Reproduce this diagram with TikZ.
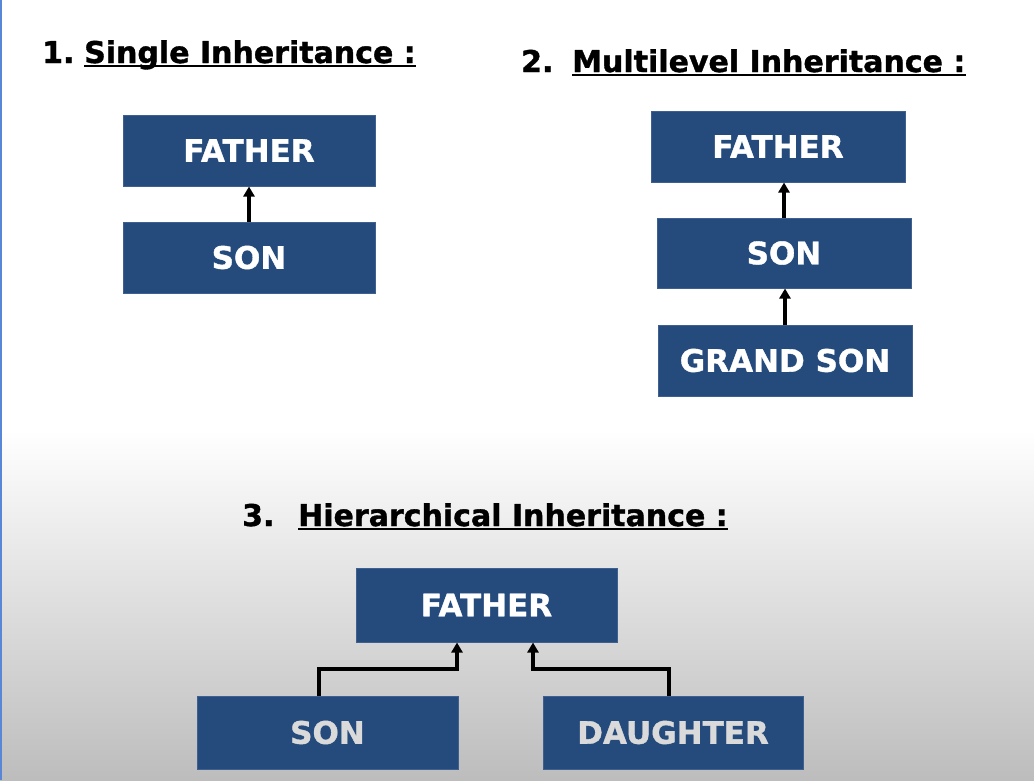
\documentclass[tikz,border=0pt]{standalone}
\usepackage{fontspec}
\setmainfont{DejaVu Sans}[BoldFeatures={FakeBold=1.2}]
\usetikzlibrary{arrows.meta,positioning}
\definecolor{boxblue}{HTML}{244B7C}
\definecolor{boxedge}{HTML}{3E6090}
\definecolor{paleword}{HTML}{DADADA}
\definecolor{edgeblue}{HTML}{5A86D6}
\tikzset{
  box/.style={rectangle,fill=boxblue,draw=boxedge,line width=1pt,
    minimum width=252pt,minimum height=71pt,text=white,
    font=\fontsize{31}{36}\selectfont\bfseries},
  head/.style={anchor=base west,inner sep=0pt,text=black,
    font=\fontsize{30}{36}\selectfont\bfseries},
  link/.style={line width=3.2pt,-{Triangle[length=10pt,width=11pt]}},
  uline/.style={line width=2.4pt}
}

\begin{document}
\begin{tikzpicture}[x=1pt,y=-1pt]
% page and background
\useasboundingbox (0,0) rectangle (1034,780);
\fill[white] (0,0) rectangle (1034,432);
\shade[top color=white,bottom color=black!26] (0,430) rectangle (1034,780);
\fill[edgeblue] (0,0) rectangle (2,780);
% 1. single
\node[head] (num1) at (42,63) {1.};
\node[head] (title1) at (84,63) {Single Inheritance :};
\draw[uline] ([yshift=-3pt]title1.base west) -- ([yshift=-3pt]title1.base east);
\node[box] (father1) at (249,150.5) {FATHER};
\node[box] (son1) at (249,257.5) {SON};
\draw[link] (son1) -- (father1);
% 2. multilevel
\node[head] (num2) at (521,72) {2.};
\node[head] (title2) at (572,72) {Multilevel Inheritance :};
\draw[uline] ([yshift=-3pt]title2.base west) -- ([yshift=-3pt]title2.base east);
\node[box,minimum width=254pt] (father2) at (778,146.5) {FATHER};
\node[box,minimum width=254pt,minimum height=70pt] (son2) at (784,253) {SON};
\node[box,minimum width=254pt] (grand2) at (785,360.5) {GRAND SON};
\draw[link] (son2.north) -- (son2.north |- father2.south);
\draw[link] (grand2.north) -- (grand2.north |- son2.south);
% 3. hierarchical
\node[head] (num3) at (242,526) {3.};
\node[head] (title3) at (298,526) {Hierarchical Inheritance :};
\draw[uline] ([yshift=-3pt]title3.base west) -- ([yshift=-3pt]title3.base east);
\node[box,minimum width=261pt,minimum height=74pt] (father3) at (486.5,605) {FATHER};
\node[box,minimum width=261pt,minimum height=73pt,text=paleword] (son3) at (327.5,732.5) {SON};
\node[box,minimum width=260pt,minimum height=73pt,text=paleword] (daughter3) at (673,732.5) {DAUGHTER};
\coordinate (joinL) at (457,669);
\coordinate (joinR) at (533,669);
\draw[link] ([xshift=-8.5pt]son3.north) |- (joinL) -- (joinL |- father3.south);
\draw[link] ([xshift=-4pt]daughter3.north) |- (joinR) -- (joinR |- father3.south);
\end{tikzpicture}
\end{document}
